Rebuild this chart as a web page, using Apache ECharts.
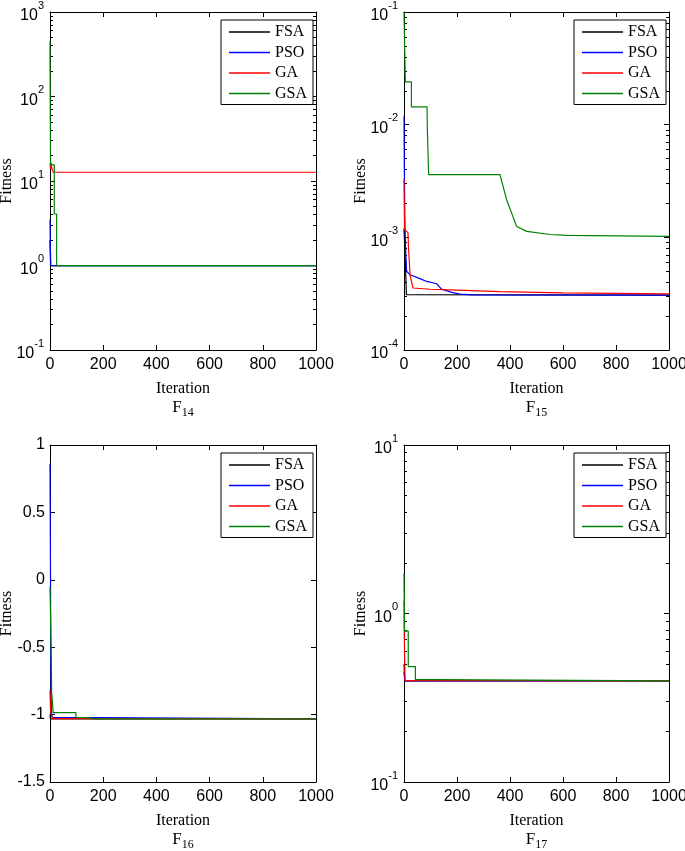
<!DOCTYPE html>
<html>
<head>
<meta charset="utf-8">
<script src="https://cdn.jsdelivr.net/npm/echarts@6/dist/echarts.min.js"></script>
<style>
html,body{margin:0;padding:0;background:#fff;}
#main{width:685px;height:851px;}
</style>
</head>
<body>
<div id="main"></div>
<script>
// ---------- data ----------
const SERIES_NAMES = ['FSA', 'PSO', 'GA', 'GSA'];
const ITER_MIN = 0, ITER_MAX = 1000, ITER_STEP = 200;

// F14 : [iteration, fitness]
const f14FSA = [[0,2.0],[2,0.998],[1000,0.998]];
const f14PSO = [[0,3.5],[1,1.8],[3,0.998],[1000,0.998]];
const f14GA  = [[0,16],[2,14],[4,16.5],[6,14.5],[9,13.5],[12,12.7],[1000,12.7]];
const f14GSA = [[0,450],[1,60],[2,15.5],[16,15.5],[16,4.07],[25,4.07],[25,0.998],[1000,0.998]];

// F15
const f15FSA = [[0,1.2e-3],[5,6.0e-4],[9,3.1e-4],[10,3.075e-4],[1000,3.075e-4]];
const f15PSO = [[0,1.2e-2],[1,5.0e-3],[3,1.5e-3],[6,8.0e-4],[10,5.0e-4],[23,4.65e-4],[60,4.3e-4],[86,4.06e-4],[123,3.87e-4],[142,3.47e-4],[180,3.25e-4],[211,3.13e-4],[260,3.08e-4],[1000,3.075e-4]];
const f15GA  = [[0,3.3e-3],[2,1.17e-3],[15,1.1e-3],[17,8.0e-4],[23,4.6e-4],[34,3.55e-4],[100,3.46e-4],[174,3.42e-4],[362,3.3e-4],[600,3.22e-4],[1000,3.15e-4]];
const f15GSA = [[0,0.1],[5,0.1],[5,0.024],[28,0.024],[28,0.0144],[87,0.0144],[88,0.0093],[93,0.0036],[362,0.0036],[387,2.17e-3],[425,1.25e-3],[463,1.13e-3],[551,1.06e-3],[614,1.04e-3],[1000,1.02e-3]];

// F16
const f16FSA = [[0,-1.0],[2,-1.0316],[1000,-1.0316]];
const f16PSO = [[0,0.86],[2,0.0],[3,-0.62],[5,-0.95],[8,-1.02],[12,-1.0316],[1000,-1.0316]];
const f16GA  = [[0,-0.82],[2,-0.97],[5,-1.0],[10,-1.03],[150,-1.03],[155,-1.0316],[1000,-1.0316]];
const f16GSA = [[0,-0.05],[5,-0.6],[6,-0.83],[12,-0.83],[12,-0.985],[97,-0.985],[98,-1.02],[155,-1.025],[165,-1.0316],[1000,-1.0316]];

// F17
const f17FSA = [[0,0.5],[3,0.398],[1000,0.398]];
const f17PSO = [[0,0.45],[3,0.398],[1000,0.398]];
const f17GA  = [[0,1.19],[1,0.75],[4,0.40],[120,0.40],[122,0.398],[1000,0.398]];
const f17GSA = [[0,1.73],[2,0.786],[16,0.786],[16,0.484],[43,0.484],[43,0.405],[123,0.405],[124,0.398],[1000,0.398]];

// y ranges
const F14_Y = [0.1, 1000];
const F15_Y = [1e-4, 1e-1];
const F16_Y = [-1.5, 1, 0.5];
const F17_Y = [0.1, 10];

const PANEL_LABELS = ['14', '15', '16', '17'];

// ---------- styling ----------
const COLORS = ['#000000', '#0000ff', '#ff0000', '#008000'];
const SANS = 'Liberation Sans';
const SERIF = 'Liberation Serif';

const panels = [
  {x:50,  y:12,  w:266, h:338, type:'log', range:F14_Y, data:[f14FSA,f14PSO,f14GA,f14GSA], label:PANEL_LABELS[0]},
  {x:404, y:12,  w:265, h:338, type:'log', range:F15_Y, data:[f15FSA,f15PSO,f15GA,f15GSA], label:PANEL_LABELS[1]},
  {x:50,  y:445, w:266, h:337, type:'value', range:F16_Y, data:[f16FSA,f16PSO,f16GA,f16GSA], label:PANEL_LABELS[2]},
  {x:404, y:445, w:265, h:337, type:'log', range:F17_Y, data:[f17FSA,f17PSO,f17GA,f17GSA], label:PANEL_LABELS[3]}
];

const grid = [], xAxis = [], yAxis = [], series = [], legend = [], graphic = [];
const axisLine = {show:true, onZero:false, lineStyle:{color:'#000', width:1}};
const tickStyle = {lineStyle:{color:'#000', width:1}};

function addGrid(l, t, w, h) {
  grid.push({left:l, top:t, width:w, height:h, containLabel:false, outerBoundsMode:'none'});
  return grid.length - 1;
}

panels.forEach(function(p){
  const g = addGrid(p.x, p.y, p.w, p.h);
  const xi = xAxis.length;
  xAxis.push({
    gridIndex:g, type:'value', min:ITER_MIN, max:ITER_MAX, interval:ITER_STEP, position:'bottom',
    axisLine:axisLine, axisTick:Object.assign({inside:true, length:5}, tickStyle),
    axisLabel:{color:'#000', fontFamily:SANS, fontSize:16, margin:7, formatter:function(v){ return String(v); }},
    splitLine:{show:false},
    name:'Iteration', nameLocation:'middle', nameGap:31, nameMoveOverlap:false,
    nameTextStyle:{color:'#000', fontFamily:SERIF, fontSize:16}
  });
  xAxis.push({
    gridIndex:g, type:'value', min:ITER_MIN, max:ITER_MAX, interval:ITER_STEP, position:'top',
    axisLine:axisLine, axisTick:Object.assign({inside:true, length:5}, tickStyle),
    axisLabel:{show:false}, splitLine:{show:false}
  });
  const yi = yAxis.length;
  const yBase = {
    gridIndex:g, type:p.type, min:p.range[0], max:p.range[1],
    axisLine:axisLine, axisTick:Object.assign({inside:true, length:5}, tickStyle),
    splitLine:{show:false}
  };
  if (p.type === 'log') {
    yBase.logBase = 10;
  } else {
    yBase.interval = p.range[2];
  }
  const yMain = Object.assign({}, yBase, {
    position:'left',
    name:'Fitness', nameLocation:'middle', nameGap:35, nameRotate:90, nameMoveOverlap:false,
    nameTextStyle:{color:'#000', fontFamily:SERIF, fontSize:16}
  });
  if (p.type === 'log') {
    yMain.axisLabel = {
      margin:6,
      formatter:function(v){ return '{b|10}{s|' + Math.round(Math.log10(v)) + '}'; },
      rich:{
        b:{color:'#000', fontFamily:SANS, fontSize:16, lineHeight:24, verticalAlign:'bottom'},
        s:{color:'#000', fontFamily:SANS, fontSize:11, verticalAlign:'top'}
      }
    };
  } else {
    yMain.axisLabel = {color:'#000', fontFamily:SANS, fontSize:16, margin:5};
  }
  yAxis.push(yMain);
  yAxis.push(Object.assign({}, yBase, {position:'right', axisLabel:{show:false}}));

  // minor log ticks: decoration grids with a linear axis in log10 space
  if (p.type === 'log') {
    const lo = Math.round(Math.log10(p.range[0])), hi = Math.round(Math.log10(p.range[1]));
    const minors = [];
    for (let d = lo; d < hi; d++) for (let k = 2; k <= 9; k++) minors.push(d + Math.log10(k));
    [[p.x - 30, 30, false], [p.x, p.w, true]].forEach(function(spec){
      const g2 = addGrid(spec[0], p.y, spec[1], p.h);
      xAxis.push({gridIndex:g2, type:'value', min:0, max:1, show:false});
      yAxis.push({
        gridIndex:g2, type:'value', min:lo, max:hi, position:'right',
        axisLine:{show:false, onZero:false}, axisLabel:{show:false}, splitLine:{show:false},
        axisTick:Object.assign({show:true, inside:spec[2], length:3, customValues:minors}, tickStyle)
      });
    });
  }

  p.data.forEach(function(d, i){
    series.push({
      name:SERIES_NAMES[i], type:'line', xAxisIndex:xi, yAxisIndex:yi,
      data:d, showSymbol:false, symbol:'none', clip:true,
      lineStyle:{color:COLORS[i], width:1.2}, itemStyle:{color:COLORS[i]},
      emphasis:{disabled:true}, silent:true, z:2 + i
    });
  });

  legend.push({
    data:SERIES_NAMES, orient:'vertical', left:p.x + p.w - 95, top:p.y + 8,
    icon:'rect', itemWidth:41, itemHeight:1.5, itemGap:4.5,
    padding:[4, 6, 3, 8], backgroundColor:'#fff', borderColor:'#000', borderWidth:1,
    borderRadius:0, selectedMode:false,
    textStyle:{color:'#000', fontFamily:SERIF, fontSize:16}
  });

  graphic.push({
    type:'text', x:p.x + p.w / 2, y:p.y + p.h + 59,
    style:{
      text:'{a|F}{b|' + p.label + '}', align:'center', verticalAlign:'middle',
      rich:{
        a:{fill:'#000', fontFamily:SERIF, fontSize:17, lineHeight:19, verticalAlign:'top'},
        b:{fill:'#000', fontFamily:SERIF, fontSize:12, verticalAlign:'bottom'}
      }
    }
  });
});

const chart = echarts.init(document.getElementById('main'), null, {renderer:'canvas'});
chart.setOption({
  animation:false,
  backgroundColor:'#fff',
  grid:grid, xAxis:xAxis, yAxis:yAxis, series:series, legend:legend, graphic:graphic
});
</script>
</body>
</html>
